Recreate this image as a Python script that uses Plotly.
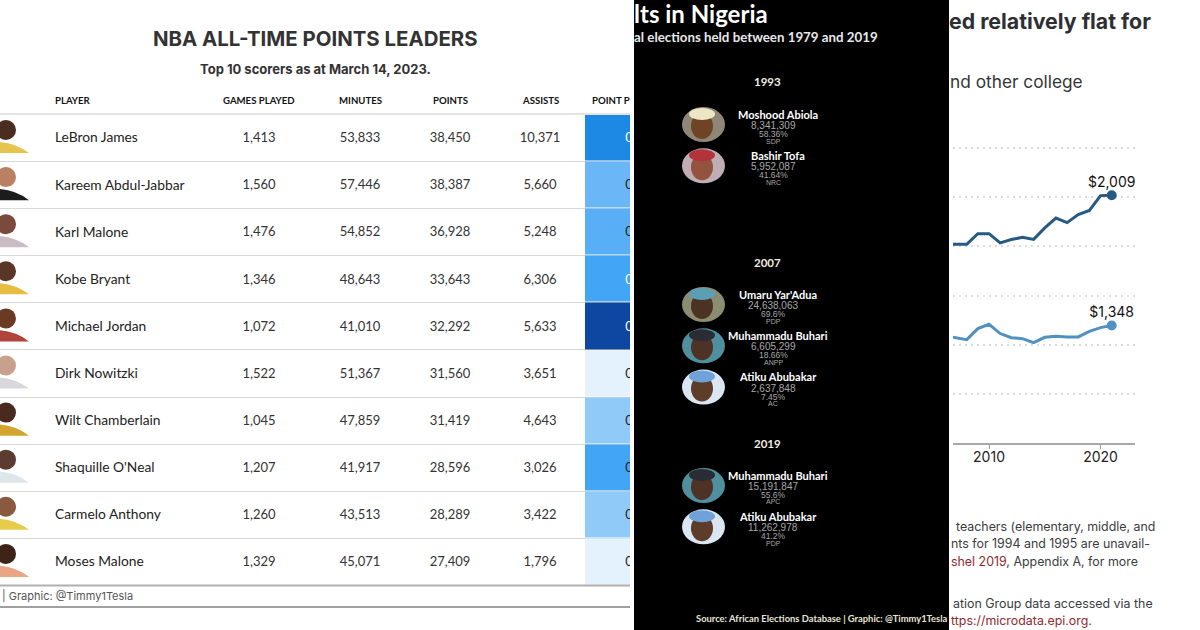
# NBA table, Nigeria election panel and teacher pay line chart, side by side
import plotly.graph_objects as go

W, H = 1200, 630

# Table data
players = ['LeBron James', 'Kareem Abdul-Jabbar', 'Karl Malone', 'Kobe Bryant', 'Michael Jordan',
           'Dirk Nowitzki', 'Wilt Chamberlain', "Shaquille O'Neal", 'Carmelo Anthony', 'Moses Malone']
games = [1413, 1560, 1476, 1346, 1072, 1522, 1045, 1207, 1260, 1329]
minutes = [53833, 57446, 54852, 48643, 41010, 51367, 47859, 41917, 43513, 45071]
points = [38450, 38387, 36928, 33643, 32292, 31560, 31419, 28596, 28289, 27409]
assists = [10371, 5660, 5248, 6306, 5633, 3651, 4643, 3026, 3422, 1796]
skin = ['#4a2c20', '#b98062', '#7a4a3c', '#5a3626', '#6a3a22', '#c9a08c', '#4a2a1e', '#5c3c30', '#8a5a40', '#3e2418']
jersey = ['#e6c44e', '#1c1c1c', '#c9bcc4', '#e8bc40', '#b0443a', '#d8d8dc', '#d2a62e', '#dfe6ea', '#e6cc4a', '#e8a684']
ppm_stops = [0.608, 0.615, 0.65, 0.657, 0.668, 0.673, 0.682, 0.692, 0.714, 0.787]
ppm_colors = ['#e3f2fd', '#e3f2fd', '#90caf9', '#90caf9', '#6cb6f6', '#5aaff5', '#42a5f5', '#42a5f5', '#1e88e5', '#0d47a1']

# Nigeria panel data
election_years = ['1993', '2007', '2019']
candidates = [['Moshood Abiola', 'Bashir Tofa'],
              ["Umaru Yar'Adua", 'Muhammadu Buhari', 'Atiku Abubakar'],
              ['Muhammadu Buhari', 'Atiku Abubakar']]
votes = [['8,341,309', '5,952,087'], ['24,638,063', '6,605,299', '2,637,848'], ['15,191,847', '11,262,978']]
shares = [['58.36%', '41.64%'], ['69.6%', '18.66%', '7.45%'], ['55.6%', '41.2%']]
parties = [['SDP', 'NRC'], ['PDP', 'ANPP', 'AC'], ['APC', 'PDP']]
photo_bg = {'Moshood Abiola': '#8f8678', 'Bashir Tofa': '#c0aeb6', "Umaru Yar'Adua": '#8c8c72',
            'Muhammadu Buhari': '#4f8f9e', 'Atiku Abubakar': '#dbe6f3'}
photo_cap = {'Moshood Abiola': '#ece6c6', 'Bashir Tofa': '#b2343a', "Umaru Yar'Adua": '#5c9fb4',
             'Muhammadu Buhari': '#2a2c34', 'Atiku Abubakar': '#6ea2d8'}
photo_face = {'Moshood Abiola': '#6e4424', 'Bashir Tofa': '#93533f', "Umaru Yar'Adua": '#4c3222',
              'Muhammadu Buhari': '#4e3226', 'Atiku Abubakar': '#5e3c2a'}

# Line chart data
years = [2006, 2007, 2008, 2009, 2010, 2011, 2012, 2013, 2014, 2015, 2016, 2017, 2018, 2019, 2020, 2021]
dark_series = [1761, 1761, 1760, 1814, 1814, 1767, 1784, 1795, 1785, 1843, 1893, 1870, 1911, 1932, 2007, 2009]
light_series = [1295, 1286, 1276, 1332, 1354, 1307, 1286, 1281, 1261, 1288, 1293, 1290, 1290, 1318, 1337, 1348]
grid_values = [1000, 1250, 1500, 1750, 2000, 2250]
DARK, LIGHT = '#265a82', '#4f92c2'

# Pixel layout constants
ROW_TOP, ROW_STEP = 138, 47.1
TEXT_NUDGE = 0.022  # scatter text sits a pixel high otherwise
SANS, BODY, ARIAL = 'Inter', 'Lato', 'Liberation Sans'


def row_at(py):
    return (py - ROW_TOP) / ROW_STEP


fig = go.Figure()
shapes = []
annotations = []


def label(text, x, y, size, color='#2d2f33', family=SANS, anchor='left', bold=False):
    if bold:
        text = f'<b>{text}</b>'
    annotations.append(dict(text=text, x=x / W, y=1 - y / H, xref='paper', yref='paper', showarrow=False,
                            xanchor=anchor, yanchor='middle', font=dict(size=size, color=color, family=family),
                            borderpad=0, borderwidth=0))


# ---- table (left) ----
rows = list(range(len(players)))
text_rows = [r + TEXT_NUDGE for r in rows]
ppm = [p / m for p, m in zip(points, minutes)]
low, high = ppm_stops[0], ppm_stops[-1]
scale = [[(s - low) / (high - low), c] for s, c in zip(ppm_stops, ppm_colors)]
fig.add_trace(go.Heatmap(z=[[v] for v in ppm], x=[585, 700], y=[r - 0.5 for r in rows + [10]],
                         colorscale=scale, zmin=low, zmax=high, showscale=False, ygap=1,
                         hoverinfo='skip', xaxis='x', yaxis='y'))
fig.add_trace(go.Scatter(x=[638] * 10, y=text_rows, mode='text', text=[f'{v:.2f}' for v in ppm],
                         textfont=dict(size=13, family=BODY,
                                       color=['#ffffff' if v > 0.69 else '#222222' for v in ppm]),
                         hoverinfo='skip', xaxis='x', yaxis='y'))
for col_x, col in zip([259, 360, 450, 540], [games, minutes, points, assists]):
    fig.add_trace(go.Scatter(x=[col_x] * 10, y=text_rows, mode='text', text=[f'{v:,}' for v in col],
                             textfont=dict(size=13, family=BODY, color='#333333'),
                             hoverinfo='skip', xaxis='x', yaxis='y'))
fig.add_trace(go.Scatter(x=[55] * 10, y=text_rows, mode='text', text=players, textposition='middle right',
                         textfont=dict(size=13.8, family=BODY, color='#222222'),
                         hoverinfo='skip', xaxis='x', yaxis='y'))
# rough stand-ins for the player photos
for r in rows:
    shapes.append(dict(type='path', xref='x', yref='y', layer='above', line_width=0, fillcolor=jersey[r],
                       path=f'M -2,{r + 0.32} L -2,{r + 0.08} Q 16,{r + 0.1} 29,{r + 0.32} Z'))
fig.add_trace(go.Scatter(x=[6] * 10, y=[r - 0.17 for r in rows], mode='markers',
                         marker=dict(size=20, color=skin, line_width=0),
                         hoverinfo='skip', xaxis='x', yaxis='y'))
for py, color, width in [(114, '#e4e4e4', 2), (585.5, '#b0b0b0', 2), (607, '#a0a0a0', 2)]:
    shapes.append(dict(type='line', xref='x', yref='y', x0=0, x1=630, y0=row_at(py), y1=row_at(py),
                       line=dict(color=color, width=width)))

label('NBA ALL-TIME POINTS LEADERS', 315, 38.5, 20.4, '#333333', SANS, 'center', True)
label('Top 10 scorers as at March 14, 2023.', 315, 69, 13, '#333333', SANS, 'center', True)
label('PLAYER', 55, 101, 9.6, '#111111', BODY, 'left', True)
for name, x in [('GAMES PLAYED', 259), ('MINUTES', 360), ('POINTS', 450), ('ASSISTS', 540)]:
    label(name, x, 101, 9.6, '#111111', BODY, 'center', True)
label('POINT P', 592, 101, 9.6, '#111111', BODY, 'left', True)
label('| Graphic: @Timmy1Tesla', 2, 596, 11, '#555555', SANS)

# ---- election panel (middle) ----
block_tops = [82, 262, 443]
for year, top, names, vts, shr, pty in zip(election_years, block_tops, candidates, votes, shares, parties):
    label(year, 767, top, 11.5, '#f0ece0', BODY, 'center', True)
    for i, name in enumerate(names):
        y = top + 33 + i * 41.3
        label(name, 778, y - 1, 11, '#ffffff', BODY, 'center', True)
        label(vts[i], 773, y + 10.5, 10, '#a8a8a8', ARIAL, 'center')
        label(shr[i], 773, y + 19, 8.5, '#a8a8a8', ARIAL, 'center')
        label(pty[i], 773, y + 26, 7, '#a8a8a8', ARIAL, 'center')
        # photo stand-ins
        shapes.append(dict(type='circle', xref='x2', yref='y2', x0=682, x1=725, y0=y - 8, y1=y + 27,
                           fillcolor=photo_bg[name], line_width=0))
        shapes.append(dict(type='circle', xref='x2', yref='y2', x0=691, x1=713, y0=y - 2, y1=y + 24,
                           fillcolor=photo_face[name], line_width=0))
        shapes.append(dict(type='circle', xref='x2', yref='y2', x0=689, x1=715, y0=y - 7, y1=y + 5,
                           fillcolor=photo_cap[name], line_width=0))

label('lts in Nigeria', 634, 13, 24, '#ffffff', BODY, 'left', True)
label('al elections held between 1979 and 2019', 634, 37, 13.3, '#e8e8e8', BODY, 'left', True)
label('Source: African Elections Database | Graphic: @Timmy1Tesla', 948, 618, 9.4, '#e8e4d8', BODY, 'right', True)

# ---- line chart (right) ----
for series, color in [(dark_series, DARK), (light_series, LIGHT)]:
    fig.add_trace(go.Scatter(x=years, y=series, mode='lines', line=dict(color=color, width=3),
                             hoverinfo='skip', xaxis='x3', yaxis='y3'))
    fig.add_trace(go.Scatter(x=years[-1:], y=series[-1:], mode='markers', marker=dict(size=10, color=color),
                             hoverinfo='skip', xaxis='x3', yaxis='y3'))
    # clear marker only lifts the value label to the right height
    fig.add_trace(go.Scatter(x=years[-1:], y=series[-1:], mode='markers+text', text=[f'${series[-1]:,}'],
                             textposition='top center', cliponaxis=False, marker=dict(size=6, opacity=0),
                             textfont=dict(size=14, family=SANS, color='#111111'),
                             hoverinfo='skip', xaxis='x3', yaxis='y3'))

label('ed relatively flat for', 949, 21, 21.3, '#2d2f33', SANS, 'left', True)
label('nd other college', 950, 82, 17.3, '#33353a', SANS)
RED = '#8f2a30'
label('teachers (elementary, middle, and', 956, 526, 12.4, '#3a3c40', SANS)
label('nts for 1994 and 1995 are unavail-', 951, 543.5, 12.4, '#3a3c40', SANS)
label(f'<span style="color:{RED}">shel 2019</span>, Appendix A, for more', 951, 561, 12.4, '#3a3c40', SANS)
label('ation Group data accessed via the', 953, 603, 12.4, '#3a3c40', SANS)
label(f'<span style="color:{RED}">ttps://microdata.epi.org</span>.', 951, 620, 12.4, '#3a3c40', SANS)

# axes are set so that one axis unit lands on the same pixel as in the reference
blank = dict(visible=False, fixedrange=True)
fig.update_layout(
    width=W, height=H, margin=dict(l=0, r=0, t=0, b=0), showlegend=False,
    paper_bgcolor='#ffffff', plot_bgcolor='#ffffff',
    font=dict(family=SANS), shapes=shapes, annotations=annotations,
    xaxis=dict(blank, domain=[0, 630 / W], range=[0, 630], anchor='y'),
    yaxis=dict(domain=[0, 1], range=[row_at(H), row_at(0)], fixedrange=True, showticklabels=False, ticks='',
               showline=False, zeroline=False, showgrid=True, gridcolor='#d8d8d8', gridwidth=1,
               tickvals=[r - 0.5 for r in rows[1:]], anchor='x'),
    xaxis2=dict(blank, domain=[634 / W, 949 / W], range=[634, 949], anchor='y2'),
    yaxis2=dict(blank, domain=[0, 1], range=[H, 0], anchor='x2'),
    xaxis3=dict(domain=[953 / W, 1135 / W], range=[2006.77, 2023.09], tickvals=[2010, 2020], anchor='y3',
                ticks='outside', ticklen=4, tickcolor='#999999', showline=True, linecolor='#a8a8a8', linewidth=1.5,
                showgrid=False, zeroline=False, fixedrange=True, ticklabelstandoff=-4,
                tickfont=dict(size=14, family=SANS, color='#222222')),
    yaxis3=dict(domain=[1 - 443.3 / H, 1 - 130 / H], range=[750, 2340], tickvals=grid_values, anchor='x3',
                showticklabels=False, ticks='', showline=False, zeroline=False, fixedrange=True,
                showgrid=True, griddash='2px,4px', gridcolor='#dcdcdc', gridwidth=2),
)
# black backing for the middle panel, drawn through its own axis
fig.add_shape(type='rect', xref='x2', yref='y2', x0=634, x1=949, y0=0, y1=H, fillcolor='#000000',
              line_width=0, layer='below')

fig.write_html('out.html', config=dict(displayModeBar=False),
               post_script="document.body.style.margin='0';")
